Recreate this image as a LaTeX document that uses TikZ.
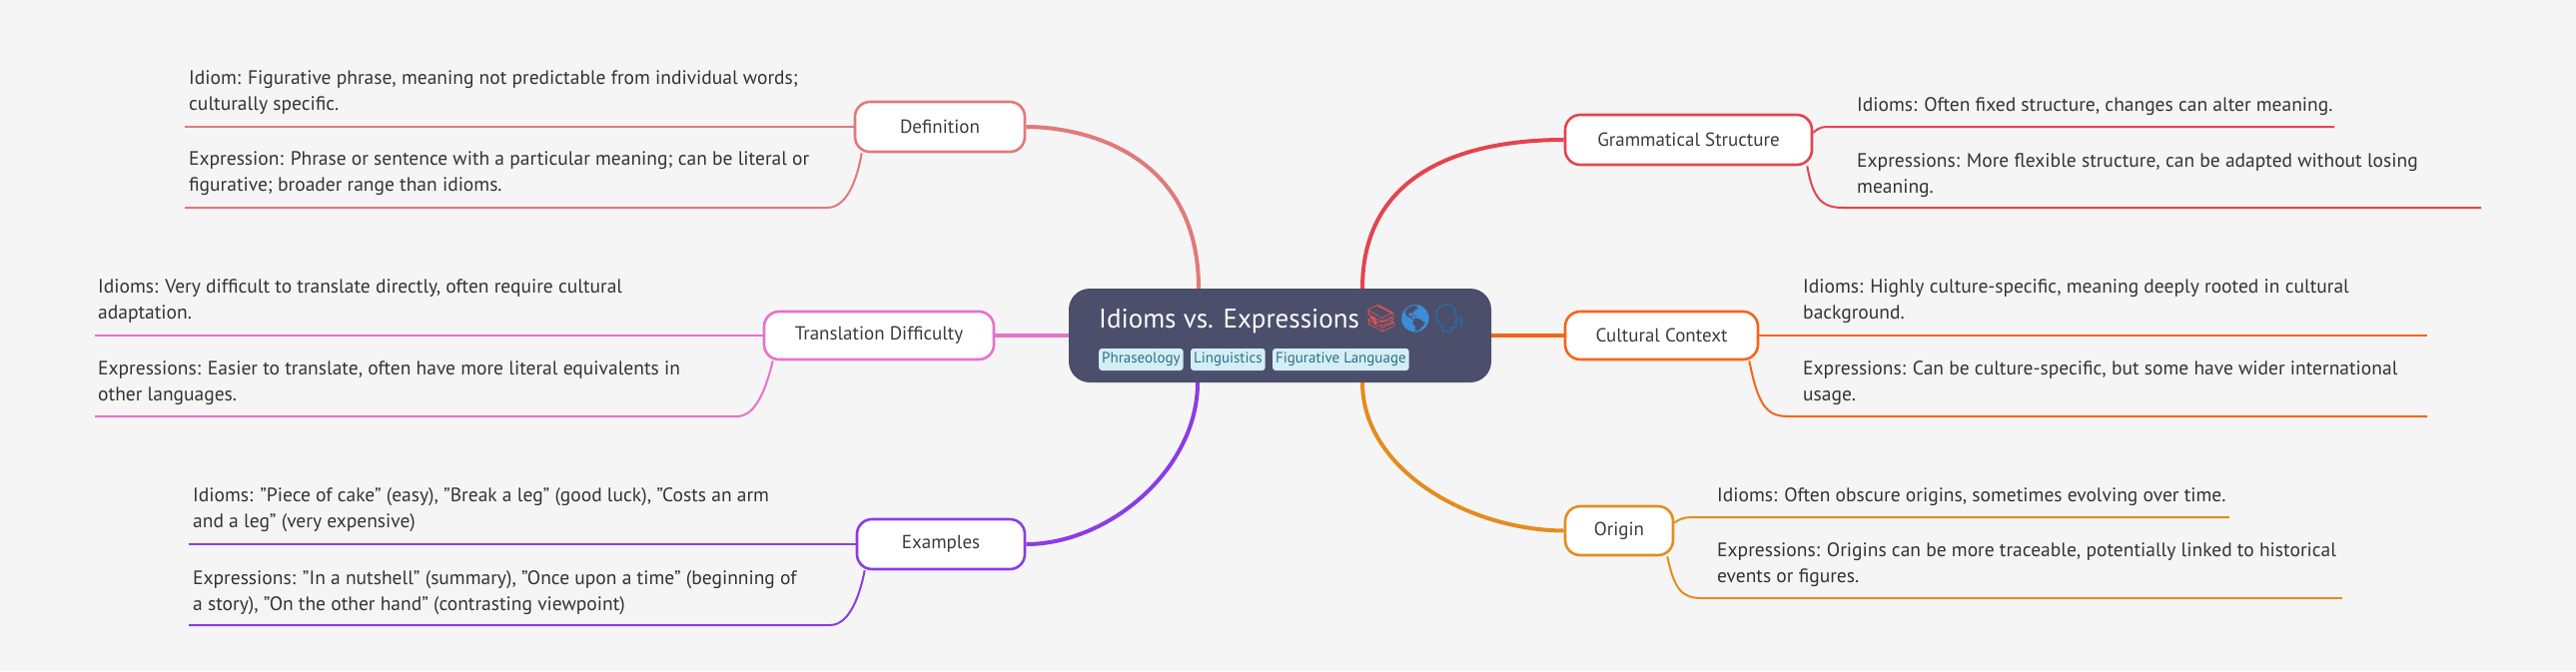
\documentclass[tikz,border=0pt]{standalone}
\usepackage{fontspec}
\setmainfont{PT Sans}
\newfontfamily\emojifont{Noto Emoji}
\usetikzlibrary{backgrounds}
\pgfdeclarelayer{bg}
\pgfsetlayers{bg,background,main}
\definecolor{bgc}{HTML}{F5F5F5}
\definecolor{centralc}{HTML}{4B4F6B}
\definecolor{tagfill}{HTML}{D4EEF5}
\definecolor{tagtext}{HTML}{2F7088}
\definecolor{labc}{HTML}{3C3C3C}
\definecolor{leafc}{HTML}{333333}
\definecolor{defc}{HTML}{E07A7A}
\definecolor{gramc}{HTML}{E5434F}
\definecolor{transc}{HTML}{E871CD}
\definecolor{cultc}{HTML}{F4661B}
\definecolor{exc}{HTML}{8B3CE8}
\definecolor{origc}{HTML}{E38D1F}
\definecolor{emo1}{HTML}{D9534F}
\definecolor{emo2}{HTML}{3B8ED8}
\definecolor{emo3}{HTML}{1E74C6}
\begin{document}
\begin{tikzpicture}[x=1pt,y=-1pt,
  branch/.style={draw=#1, line width=2.6pt, fill=white, rounded corners=15pt,
    minimum height=50pt, text=labc, font=\fontsize{19}{22}\selectfont, inner sep=0pt},
  leaf/.style={font=\fontsize{19.5}{26}\selectfont, text=leafc, align=left,
    inner sep=0pt, anchor=north west},
  trunk/.style={draw=#1, line width=4pt},
  uline/.style={draw=#1, line width=2pt},
  tagbox/.style={fill=tagfill, text=tagtext, rounded corners=3pt,
    font=\fontsize{15}{18}\selectfont, inner xsep=3pt, inner ysep=0pt,
    minimum height=22pt, anchor=west}
]
\begin{pgfonlayer}{bg}
  \fill[bgc] (0,0) rectangle (2579,672);
\end{pgfonlayer}
\useasboundingbox (0,0) rectangle (2579,672);

% central topic
\node[fill=centralc, rounded corners=21pt, minimum width=423pt, minimum height=94pt,
  inner sep=0pt] (c) at (1281.5,336) {};
\node[anchor=base west, inner sep=0pt, text=white, font=\fontsize{27}{32}\selectfont]
  (title) at (1100,328) {Idioms vs. Expressions\,{\emojifont\textcolor{emo1}{📚}\textcolor{emo2}{🌎}\textcolor{emo3}{🗣}}};
\node[tagbox] (tg1) at (1100,360) {Phraseology};
\node[tagbox] (tg2) at ([xshift=7pt]tg1.east) {Linguistics};
\node[tagbox] (tg3) at ([xshift=7pt]tg2.east) {Figurative Language};

% branch topics
\node[branch=defc, minimum width=170pt] (def) at (941,127) {Definition};
\node[branch=transc, minimum width=230pt, minimum height=48pt] (trans) at (880,336) {Translation Difficulty};
\node[branch=exc, minimum width=168pt] (ex) at (942,545) {Examples};
\node[branch=gramc, minimum width=247pt] (gram) at (1690.5,140) {Grammatical Structure};
\node[branch=cultc, minimum width=193pt, minimum height=48pt] (cult) at (1663.5,336) {Cultural Context};
\node[branch=origc, minimum width=108pt, minimum height=49pt] (orig) at (1621,531.5) {Origin};

% leaves
\node[leaf] (d1t) at (189,70) {Idiom: Figurative phrase, meaning not predictable from individual words;\\culturally specific.};
\node[leaf] (d2t) at (189,151) {Expression: Phrase or sentence with a particular meaning; can be literal or\\figurative; broader range than idioms.};
\node[leaf] (t1t) at (98,279) {Idioms: Very difficult to translate directly, often require cultural\\adaptation.};
\node[leaf] (t2t) at (98,361) {Expressions: Easier to translate, often have more literal equivalents in\\other languages.};
\node[leaf] (e1t) at (193,488) {Idioms: "Piece of cake" (easy), "Break a leg" (good luck), "Costs an arm\\and a leg" (very expensive)};
\node[leaf] (e2t) at (193,571) {Expressions: "In a nutshell" (summary), "Once upon a time" (beginning of\\a story), "On the other hand" (contrasting viewpoint)};
\node[leaf] (g1t) at (1859,97) {Idioms: Often fixed structure, changes can alter meaning.};
\node[leaf] (g2t) at (1859,153) {Expressions: More flexible structure, can be adapted without losing\\meaning.};
\node[leaf] (c1t) at (1805,279) {Idioms: Highly culture-specific, meaning deeply rooted in cultural\\background.};
\node[leaf] (c2t) at (1805,361) {Expressions: Can be culture-specific, but some have wider international\\usage.};
\node[leaf] (o1t) at (1719,488) {Idioms: Often obscure origins, sometimes evolving over time.};
\node[leaf] (o2t) at (1719,543) {Expressions: Origins can be more traceable, potentially linked to historical\\events or figures.};

% underline end points
\coordinate (d1) at (185,127);
\coordinate (d2) at (185,208);
\coordinate (t1) at (95,336);
\coordinate (t2) at (95,417);
\coordinate (e1) at (189,545);
\coordinate (e2) at (189,626);
\coordinate (g1) at (2337,127);
\coordinate (g2) at (2484,208);
\coordinate (c1) at (2430,336);
\coordinate (c2) at (2430,417);
\coordinate (o1) at (2232,518);
\coordinate (o2) at (2345,599);

\begin{scope}[on background layer]
  % trunks
  \draw[trunk=defc] (def.east) .. controls (1080,127) and (1200,150) .. ([xshift=-81.5pt]c.north);
  \draw[trunk=gramc] ([xshift=82.5pt]c.north) .. controls (1364,170) and (1470,140) .. (gram.west);
  \draw[trunk=transc] (c.west) -- (trans.east);
  \draw[trunk=cultc] (c.east) -- (cult.west);
  \draw[trunk=exc] ([xshift=-82.5pt]c.south) .. controls (1199,470) and (1110,545) .. (ex.east);
  \draw[trunk=origc] ([xshift=82.5pt]c.south) .. controls (1364,470) and (1470,531) .. (orig.west);
  % leaf lines
  \draw[uline=defc] (d1) -- (def.west);
  \draw[uline=defc] (d2) -- (828,208) .. controls (848,208) and (858,180) .. ([xshift=8pt]def.south west);
  \draw[uline=transc] (t1) -- (trans.west);
  \draw[uline=transc] (t2) -- (738,417) .. controls (758,417) and (768,385) .. ([xshift=10pt]trans.south west);
  \draw[uline=exc] (e1) -- (ex.west);
  \draw[uline=exc] (e2) -- (831,626) .. controls (851,626) and (861,595) .. ([xshift=9pt]ex.south west);
  \draw[uline=gramc] ([yshift=7pt]gram.east) .. controls (1822,127) .. (1840,127) -- (g1);
  \draw[uline=gramc] ([xshift=-6pt]gram.south east) .. controls (1815,200) and (1825,208) .. (1845,208) -- (g2);
  \draw[uline=cultc] (cult.east) -- (c1);
  \draw[uline=cultc] ([xshift=-10pt]cult.south east) .. controls (1760,405) and (1768,417) .. (1790,417) -- (c2);
  \draw[uline=origc] ([yshift=8pt]orig.east) .. controls (1685,518) .. (1706,518) -- (o1);
  \draw[uline=origc] ([xshift=-7pt]orig.south east) .. controls (1676,590) and (1684,599) .. (1703,599) -- (o2);
\end{scope}
\end{tikzpicture}
\end{document}
